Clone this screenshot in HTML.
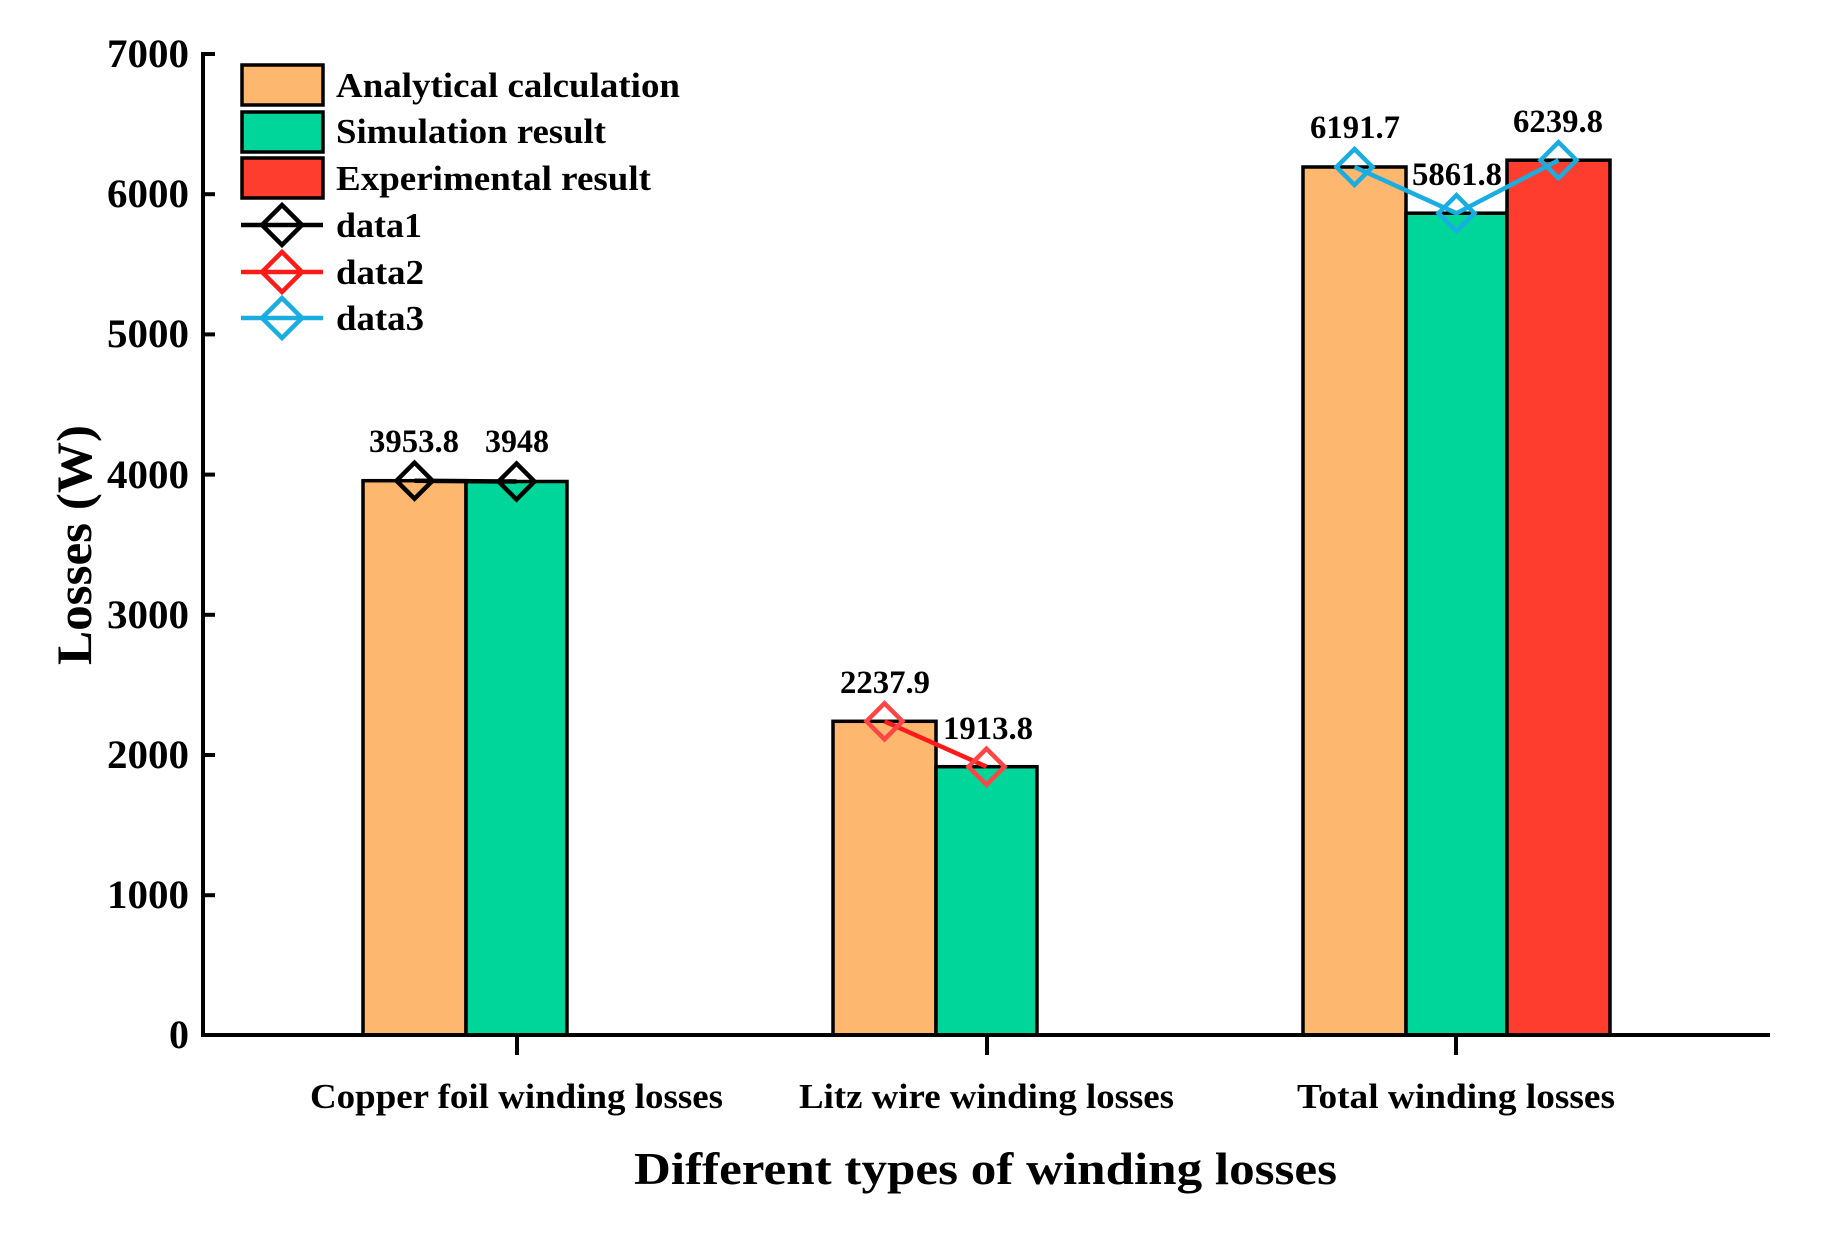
<!DOCTYPE html>
<html><head><meta charset="utf-8"><style>html,body{margin:0;padding:0;background:#fff}svg{display:block}</style></head>
<body>
<svg width="1831" height="1240" viewBox="0 0 1831 1240" xmlns="http://www.w3.org/2000/svg" font-family="'Liberation Serif', serif" font-weight="bold">
<rect width="1831" height="1240" fill="#fff"/>
<g stroke="#000" stroke-width="3.5">
<rect x="363" y="480.7" width="103" height="554.3" fill="#FDB76E"/>
<rect x="466" y="481.5" width="101" height="553.5" fill="#00D59A"/>
<rect x="833" y="721.3" width="103" height="313.7" fill="#FDB76E"/>
<rect x="936" y="766.7" width="101" height="268.3" fill="#00D59A"/>
<rect x="1303" y="167" width="103" height="868" fill="#FDB76E"/>
<rect x="1406" y="213.2" width="101" height="821.8" fill="#00D59A"/>
<rect x="1507" y="160.2" width="103" height="874.8" fill="#FF3D2E"/>
</g>
<g stroke="#000" stroke-width="4" fill="none">
<line x1="203" y1="52" x2="203" y2="1037"/>
<line x1="201" y1="1035" x2="1770" y2="1035"/>
<line x1="203" y1="54" x2="215" y2="54"/>
<line x1="203" y1="194.2" x2="215" y2="194.2"/>
<line x1="203" y1="334.4" x2="215" y2="334.4"/>
<line x1="203" y1="474.6" x2="215" y2="474.6"/>
<line x1="203" y1="614.8" x2="215" y2="614.8"/>
<line x1="203" y1="755" x2="215" y2="755"/>
<line x1="203" y1="895.2" x2="215" y2="895.2"/>
<line x1="517" y1="1035" x2="517" y2="1055"/>
<line x1="987" y1="1035" x2="987" y2="1055"/>
<line x1="1456" y1="1035" x2="1456" y2="1055"/>
</g>
<g font-size="40" text-anchor="end" fill="#000">
<text x="189" y="67" textLength="82" lengthAdjust="spacingAndGlyphs">7000</text>
<text x="189" y="207" textLength="82" lengthAdjust="spacingAndGlyphs">6000</text>
<text x="189" y="347" textLength="82" lengthAdjust="spacingAndGlyphs">5000</text>
<text x="189" y="488" textLength="82" lengthAdjust="spacingAndGlyphs">4000</text>
<text x="189" y="628" textLength="82" lengthAdjust="spacingAndGlyphs">3000</text>
<text x="189" y="768" textLength="82" lengthAdjust="spacingAndGlyphs">2000</text>
<text x="189" y="908" textLength="82" lengthAdjust="spacingAndGlyphs">1000</text>
<text x="189" y="1048">0</text>
</g>
<g font-size="35" fill="#000">
<text x="310" y="1108" textLength="413" lengthAdjust="spacingAndGlyphs">Copper foil winding losses</text>
<text x="799" y="1108" textLength="375" lengthAdjust="spacingAndGlyphs">Litz wire winding losses</text>
<text x="1297" y="1108" textLength="318" lengthAdjust="spacingAndGlyphs">Total winding losses</text>
<text x="634" y="1184" font-size="46" textLength="703" lengthAdjust="spacingAndGlyphs">Different types of winding losses</text>
<text transform="translate(91,545) rotate(-90)" text-anchor="middle" font-size="50" textLength="240" lengthAdjust="spacingAndGlyphs">Losses (W)</text>
</g>
<g fill="none" stroke-width="4.5">
<polyline points="414.5,480.7 516.5,481.5" stroke="#000"/>
<polyline points="884.5,721.3 986.5,766.7" stroke="#FF1A1A"/>
<polyline points="1354.5,167 1456.5,213.2 1558.5,160.2" stroke="#1AADE0"/>
<g stroke="#000">
<path d="M414.5,462.7 l18,18 l-18,18 l-18,-18z"/>
<path d="M516.5,463.5 l18,18 l-18,18 l-18,-18z"/>
</g>
<g stroke="#FF4545">
<path d="M884.5,703.3 l18,18 l-18,18 l-18,-18z"/>
<path d="M986.5,748.7 l18,18 l-18,18 l-18,-18z"/>
</g>
<g stroke="#1AADE0">
<path d="M1354.5,149 l18,18 l-18,18 l-18,-18z"/>
<path d="M1456.5,195.2 l18,18 l-18,18 l-18,-18z"/>
<path d="M1558.5,142.2 l18,18 l-18,18 l-18,-18z"/>
</g>
</g>
<g font-size="33" text-anchor="middle" fill="#000">
<text x="414" y="452" textLength="90" lengthAdjust="spacingAndGlyphs">3953.8</text>
<text x="517" y="452" textLength="64" lengthAdjust="spacingAndGlyphs">3948</text>
<text x="885" y="693" textLength="90" lengthAdjust="spacingAndGlyphs">2237.9</text>
<text x="988" y="739" textLength="90" lengthAdjust="spacingAndGlyphs">1913.8</text>
<text x="1355" y="138" textLength="90" lengthAdjust="spacingAndGlyphs">6191.7</text>
<text x="1457" y="185" textLength="90" lengthAdjust="spacingAndGlyphs">5861.8</text>
<text x="1558" y="132" textLength="90" lengthAdjust="spacingAndGlyphs">6239.8</text>
</g>
<g stroke="#000" stroke-width="3.5">
<rect x="242" y="65" width="81" height="40" fill="#FDB76E"/>
<rect x="242" y="112" width="81" height="40" fill="#00D59A"/>
<rect x="242" y="158" width="81" height="40" fill="#FF3D2E"/>
</g>
<g fill="none" stroke-width="4.5">
<line x1="241" y1="225" x2="323" y2="225" stroke="#000"/>
<path d="M282,205 l20,20 l-20,20 l-20,-20z" stroke="#000"/>
<line x1="241" y1="272" x2="323" y2="272" stroke="#FF1A1A"/>
<path d="M282,252 l20,20 l-20,20 l-20,-20z" stroke="#FF1A1A"/>
<line x1="241" y1="318" x2="323" y2="318" stroke="#1AADE0"/>
<path d="M282,298 l20,20 l-20,20 l-20,-20z" stroke="#1AADE0"/>
</g>
<g font-size="35" fill="#000">
<text x="336" y="97" textLength="344" lengthAdjust="spacingAndGlyphs">Analytical calculation</text>
<text x="336" y="143" textLength="270" lengthAdjust="spacingAndGlyphs">Simulation result</text>
<text x="336" y="190" textLength="315" lengthAdjust="spacingAndGlyphs">Experimental result</text>
<text x="336" y="237" textLength="86" lengthAdjust="spacingAndGlyphs">data1</text>
<text x="336" y="284" textLength="88" lengthAdjust="spacingAndGlyphs">data2</text>
<text x="336" y="330" textLength="88" lengthAdjust="spacingAndGlyphs">data3</text>
</g>
</svg>
</body></html>
